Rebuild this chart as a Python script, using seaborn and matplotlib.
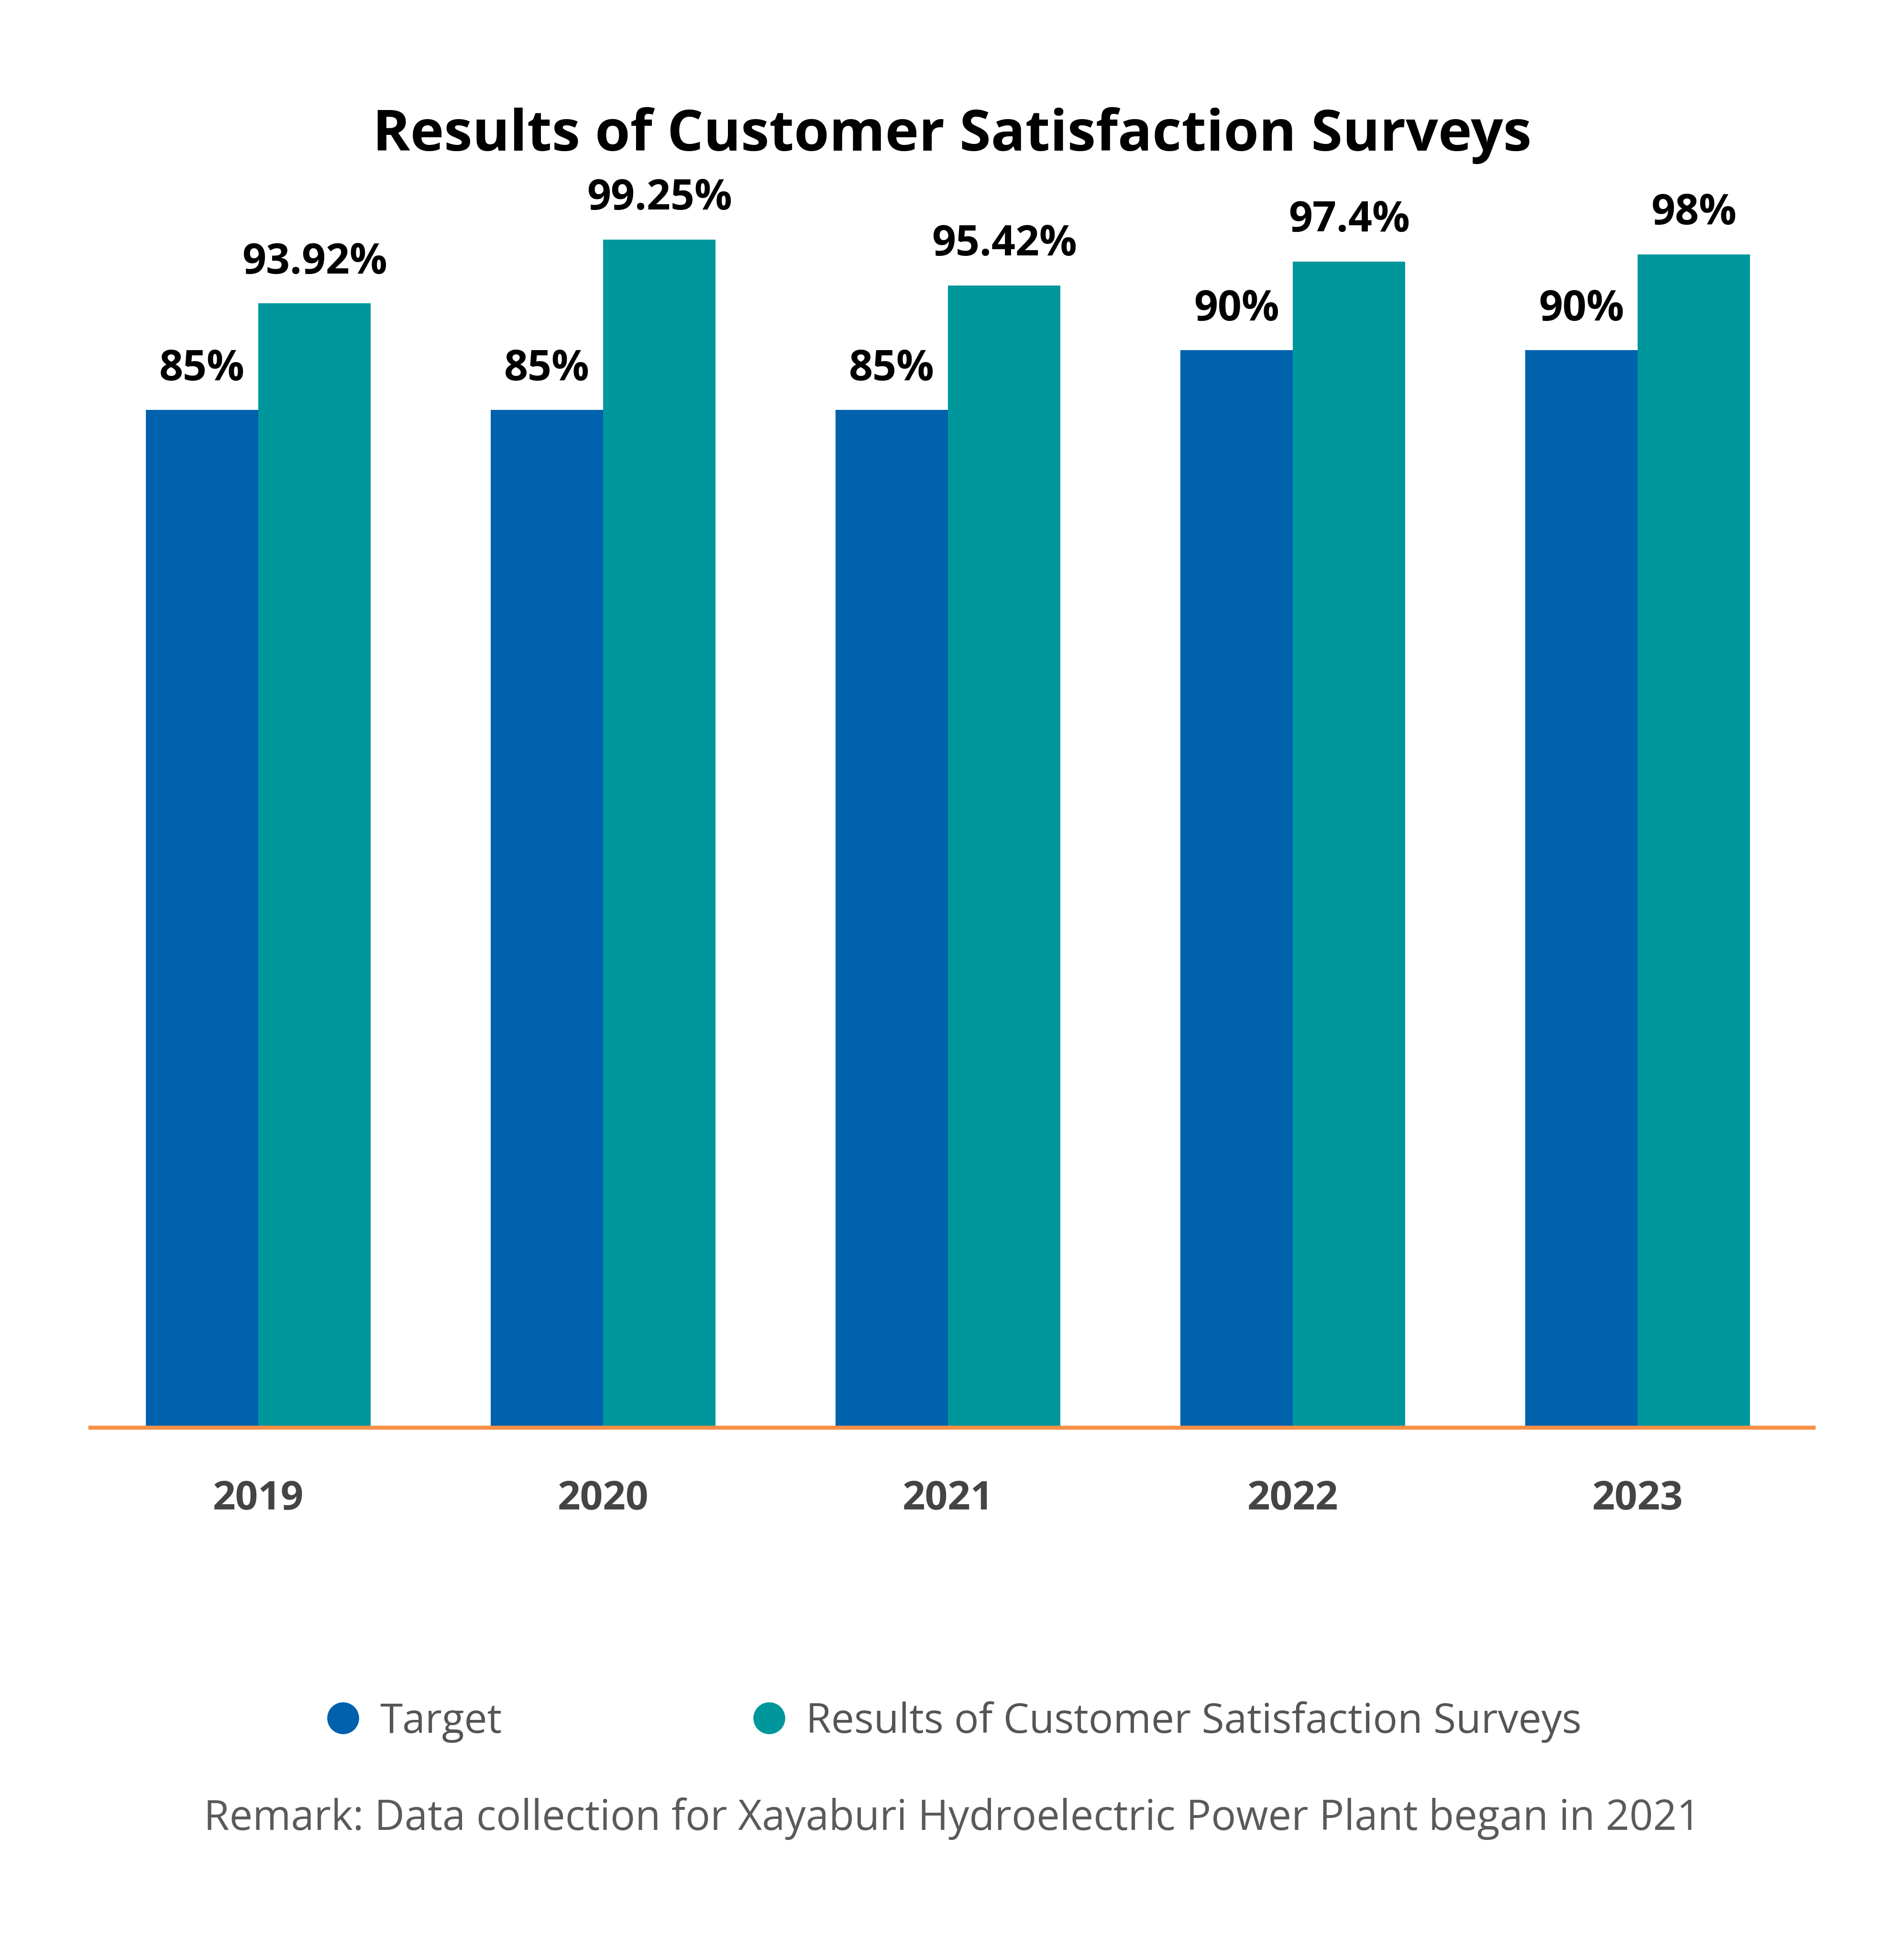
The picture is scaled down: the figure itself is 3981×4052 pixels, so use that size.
import pandas as pd
import numpy as np
import matplotlib
matplotlib.use('Agg')
import matplotlib.pyplot as plt
import seaborn as sns
from matplotlib.lines import Line2D

# Data
years = ["2019", "2020", "2021", "2022", "2023"]
target = [85, 85, 85, 90, 90]
results = [93.92, 99.25, 95.42, 97.4, 98]
series_names = ["Target", "Results of Customer Satisfaction Surveys"]
colors = ["#0061AD", "#00979C"]

df = pd.DataFrame({
    "Year": years * 2,
    "Value": target + results,
    "Series": [series_names[0]] * len(years) + [series_names[1]] * len(years),
})

sns.set_theme(style="white")
plt.rcParams['font.family'] = ['Open Sans', 'DejaVu Sans']

W, H, DPI = 3981, 4052, 300
fig = plt.figure(figsize=(W / DPI, H / DPI), dpi=DPI)

# axes placed in pixel terms: line from x=189 to 3792, baseline at y=2985
ax_left, ax_right = 189 / W, 3792 / W
ax_bottom = 1 - 2985 / H
ylim_top = 105
ax_height = ylim_top * 25.03 / H
ax = fig.add_axes([ax_left, ax_bottom, ax_right - ax_left, ax_height])

sns.barplot(data=df, x="Year", y="Value", hue="Series", palette=colors,
            saturation=1, width=0.652, linewidth=0, ax=ax, legend=False)

for cont in ax.containers:
    ax.bar_label(cont, labels=[f"{v:g}%" for v in cont.datavalues],
                 padding=10, fontsize=21, fontweight='bold', color='black')

ax.set_ylim(0, ylim_top)
ax.set_xlim(-0.487, 4.51)
ax.set_xlabel("")
ax.set_ylabel("")
ax.set_yticks([])
for s in ["top", "right", "left"]:
    ax.spines[s].set_visible(False)
ax.spines["bottom"].set_color("#F79046")
ax.spines["bottom"].set_linewidth(2)
ax.tick_params(axis='x', length=0, pad=26, labelsize=20, labelcolor="#444444")
for lbl in ax.get_xticklabels():
    lbl.set_fontweight('bold')

fig.text(0.5, 1 - 283 / H, "Results of Customer Satisfaction Surveys",
         ha='center', va='center', fontsize=28.6, fontweight='bold', color='black')

handles = [Line2D([], [], marker='o', linestyle='', markersize=15,
                  markerfacecolor=c, markeredgecolor=c) for c in colors]
fig.legend(handles, series_names, loc='center', bbox_to_anchor=(0.5, 1 - 3600 / H),
           ncol=2, frameon=False, fontsize=20.6, labelcolor="#555555",
           handletextpad=0.4, columnspacing=6, handlelength=1)

fig.text(0.5, 1 - 3803 / H,
         "Remark: Data collection for Xayaburi Hydroelectric Power Plant began in 2021",
         ha='center', va='center', fontsize=20.8, color="#5A5A5A")

fig.savefig("out.png", dpi=DPI, facecolor='white')
